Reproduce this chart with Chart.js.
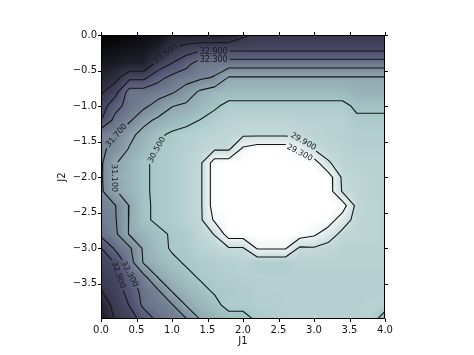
<!DOCTYPE html>
<html>
<head>
<meta charset="utf-8">
<script src="https://cdn.jsdelivr.net/npm/chart.js@4.4.0/dist/chart.umd.min.js"></script>
<style>
  html, body { margin: 0; padding: 0; background: #fff; }
  #wrap { width: 474px; height: 355px; }
</style>
</head>
<body>
<div id="wrap"><canvas id="chart" width="474" height="355"></canvas></div>
<script>
// grid of the map: J1 across, J2 downwards
const j1Values = [0.0, 0.2, 0.4, 0.6, 0.8, 1.0, 1.2, 1.4, 1.6, 1.8, 2.0, 2.2, 2.4, 2.6, 2.8, 3.0, 3.2, 3.4, 3.6, 3.8, 4.0];
const j2Values = [0.0, -0.2, -0.4, -0.6, -0.8, -1.0, -1.2, -1.4, -1.6, -1.8, -2.0, -2.2, -2.4, -2.6, -2.8, -3.0, -3.2, -3.4, -3.6, -3.8, -4.0];

// values, one row per J2 value
const zRows = [
  [34.9, 34.8, 34.7, 34.6, 34.5, 34.1, 34.07, 34.07, 34.07, 34.0, 33.6, 33.4, 33.4, 33.4, 33.4, 33.4, 33.4, 33.4, 33.4, 33.4, 33.4],
  [34.6, 34.5, 34.4, 34.3, 34.04, 33.45, 33.2, 33.03, 33.03, 33.03, 33.03, 33.03, 33.03, 33.03, 33.03, 33.03, 33.03, 33.03, 33.03, 33.03, 33.03],
  [34.3, 34.2, 34.05, 34.05, 33.32, 32.88, 32.5, 32.0, 32.0, 32.0, 32.0, 32.0, 32.0, 32.0, 32.0, 32.0, 32.0, 32.0, 32.0, 32.0, 32.0],
  [33.95, 33.7, 33.05, 33.05, 32.49, 32.14, 31.95, 31.8, 31.65, 31.05, 31.05, 31.05, 31.05, 31.05, 31.05, 31.05, 31.05, 31.05, 31.05, 31.05, 31.05],
  [33.58, 33.12, 32.05, 32.05, 31.95, 31.78, 31.42, 31.0, 30.8, 30.75, 30.75, 30.75, 30.75, 30.75, 30.75, 30.75, 30.75, 30.75, 30.9, 30.9, 30.9],
  [33.2, 32.5, 32.08, 31.82, 31.49, 31.12, 31.0, 30.8, 30.58, 30.35, 30.35, 30.35, 30.35, 30.35, 30.35, 30.35, 30.35, 30.35, 30.6, 30.6, 30.6],
  [32.92, 32.11, 31.78, 31.27, 30.99, 30.83, 30.67, 30.48, 30.3, 30.2, 30.15, 30.15, 30.15, 30.15, 30.2, 30.2, 30.2, 30.2, 30.4, 30.4, 30.4],
  [31.85, 31.74, 31.26, 30.9, 30.62, 30.4, 30.3, 30.2, 30.15, 30.1, 30.0, 30.0, 30.0, 30.0, 30.05, 30.15, 30.2, 30.25, 30.3, 30.3, 30.3],
  [31.8, 31.54, 31.06, 30.77, 30.48, 30.35, 30.25, 30.15, 30.0, 30.0, 29.2, 29.0, 29.0, 29.0, 29.4, 29.95, 30.1, 30.2, 30.25, 30.25, 30.25],
  [31.78, 31.14, 30.86, 30.56, 30.42, 30.35, 30.2, 30.0, 29.0, 29.0, 29.0, 29.0, 29.0, 29.0, 29.0, 29.0, 29.85, 30.1, 30.2, 30.2, 30.2],
  [31.78, 31.07, 30.83, 30.56, 30.42, 30.35, 30.2, 30.0, 29.0, 29.0, 29.0, 29.0, 29.0, 29.0, 29.0, 29.0, 29.0, 30.0, 30.1, 30.2, 30.2],
  [31.8, 31.14, 30.86, 30.56, 30.42, 30.35, 30.2, 30.0, 29.0, 29.0, 29.0, 29.0, 29.0, 29.0, 29.0, 29.0, 29.0, 29.95, 30.1, 30.2, 30.2],
  [31.85, 31.72, 31.08, 30.58, 30.42, 30.35, 30.2, 30.0, 29.0, 29.0, 29.0, 29.0, 29.0, 29.0, 29.0, 29.0, 29.0, 29.0, 30.06, 30.15, 30.2],
  [31.95, 31.75, 31.05, 30.58, 30.42, 30.35, 30.2, 30.0, 29.2, 29.0, 29.0, 29.0, 29.0, 29.0, 29.0, 29.0, 29.0, 29.6, 30.1, 30.15, 30.2],
  [32.15, 31.82, 31.05, 30.84, 30.61, 30.45, 30.35, 30.1, 29.88, 29.0, 29.0, 29.0, 29.0, 29.0, 29.0, 29.2, 29.6, 30.05, 30.1, 30.15, 30.2],
  [32.92, 32.2, 31.8, 31.01, 30.66, 30.45, 30.4, 30.2, 30.1, 29.95, 29.95, 29.25, 29.25, 29.25, 30.0, 29.95, 30.1, 30.2, 30.2, 30.2, 30.2],
  [33.1, 32.88, 31.96, 31.05, 30.82, 30.6, 30.45, 30.35, 30.3, 30.25, 30.2, 30.3, 30.3, 30.3, 30.2, 30.2, 30.2, 30.2, 30.2, 30.2, 30.2],
  [33.3, 33.1, 32.41, 31.85, 31.06, 30.85, 30.61, 30.45, 30.35, 30.3, 30.25, 30.25, 30.25, 30.25, 30.25, 30.25, 30.25, 30.25, 30.25, 30.25, 30.25],
  [33.52, 33.18, 32.7, 32.09, 31.78, 31.06, 30.84, 30.62, 30.45, 30.4, 30.35, 30.3, 30.25, 30.25, 30.25, 30.25, 30.25, 30.25, 30.25, 30.25, 30.25],
  [33.9, 33.3, 32.88, 32.17, 31.96, 31.75, 31.07, 30.85, 30.63, 30.35, 30.35, 30.3, 30.3, 30.25, 30.25, 30.25, 30.25, 30.25, 30.25, 30.2, 30.2],
  [34.3, 33.45, 33.18, 32.7, 32.16, 31.95, 31.75, 31.08, 30.9, 30.7, 30.7, 30.42, 30.35, 30.3, 30.25, 30.25, 30.25, 30.25, 30.25, 30.2, 30.87]
];

const levels = [29.3, 29.9, 30.5, 31.1, 31.7, 32.3, 32.9, 33.5];
const xTicks = [0, 0.5, 1, 1.5, 2, 2.5, 3, 3.5, 4];
const yTicks = [-3.5, -3, -2.5, -2, -1.5, -1, -0.5, 0];

// where the inline level labels sit (level, J1, J2)
const labelSpots = [
  [33.5, 0.89, -0.24], [32.9, 1.59, -0.22], [32.3, 1.59, -0.34],
  [31.7, 0.24, -1.42], [30.5, 0.72, -1.59], [31.1, 0.17, -2.01],
  [32.9, 0.22, -3.38], [32.3, 0.36, -3.40],
  [29.9, 2.78, -1.58], [29.3, 2.77, -1.70]
];

const zMin = Math.min(...zRows.flat());
const zMax = Math.max(...zRows.flat());

// matplotlib "bone", reversed (high values dark)
function boneR(v) {
  const s = 1 - Math.min(1, Math.max(0, (v - zMin) / (zMax - zMin)));
  const r = s < 0.746032 ? s * 0.652778 / 0.746032 : 0.652778 + (s - 0.746032) / 0.253968 * 0.347222;
  const g = s < 0.365079 ? s * 0.319444 / 0.365079
    : s < 0.746032 ? 0.319444 + (s - 0.365079) / 0.380953 * 0.458334
    : 0.777778 + (s - 0.746032) / 0.253968 * 0.222222;
  const b = s < 0.365079 ? s * 0.444444 / 0.365079 : 0.444444 + (s - 0.365079) / 0.634921 * 0.555556;
  return [r * 255, g * 255, b * 255];
}

function cellIndex(arr, v) {
  const up = arr[1] > arr[0];
  for (let k = 0; k < arr.length - 2; k++) {
    if (up ? v < arr[k + 1] : v > arr[k + 1]) return k;
  }
  return arr.length - 2;
}

// bilinear value at (J1, J2)
function sample(vx, vy) {
  const i = cellIndex(j1Values, vx), j = cellIndex(j2Values, vy);
  const fx = Math.min(1, Math.max(0, (vx - j1Values[i]) / (j1Values[i + 1] - j1Values[i])));
  const fy = Math.min(1, Math.max(0, (vy - j2Values[j]) / (j2Values[j + 1] - j2Values[j])));
  const top = zRows[j][i] * (1 - fx) + zRows[j][i + 1] * fx;
  const bot = zRows[j + 1][i] * (1 - fx) + zRows[j + 1][i + 1] * fx;
  return top * (1 - fy) + bot * fy;
}

function crossing(kind, i, j, level) {
  if (kind === 'h') {
    const v0 = zRows[j][i], v1 = zRows[j][i + 1];
    const f = (level - v0) / (v1 - v0);
    return [j1Values[i] + f * (j1Values[i + 1] - j1Values[i]), j2Values[j]];
  }
  const v0 = zRows[j][i], v1 = zRows[j + 1][i];
  const f = (level - v0) / (v1 - v0);
  return [j1Values[i], j2Values[j] + f * (j2Values[j + 1] - j2Values[j])];
}

// marching squares, segments chained into polylines
function contourLines(level) {
  const segs = [];
  for (let j = 0; j < j2Values.length - 1; j++) {
    for (let i = 0; i < j1Values.length - 1; i++) {
      const a = zRows[j][i], b = zRows[j][i + 1], c = zRows[j + 1][i + 1], d = zRows[j + 1][i];
      const code = (a >= level ? 8 : 0) | (b >= level ? 4 : 0) | (c >= level ? 2 : 0) | (d >= level ? 1 : 0);
      if (code === 0 || code === 15) continue;
      const T = 'h:' + i + ':' + j, B = 'h:' + i + ':' + (j + 1);
      const L = 'v:' + i + ':' + j, R = 'v:' + (i + 1) + ':' + j;
      const mid = (a + b + c + d) / 4 >= level;
      switch (code) {
        case 1: case 14: segs.push([L, B]); break;
        case 2: case 13: segs.push([B, R]); break;
        case 3: case 12: segs.push([L, R]); break;
        case 4: case 11: segs.push([T, R]); break;
        case 6: case 9: segs.push([T, B]); break;
        case 7: case 8: segs.push([T, L]); break;
        case 5: if (mid) segs.push([T, L], [B, R]); else segs.push([T, R], [L, B]); break;
        case 10: if (mid) segs.push([T, R], [L, B]); else segs.push([T, L], [B, R]); break;
      }
    }
  }
  const ends = new Map();
  segs.forEach((s, k) => s.forEach(e => {
    if (!ends.has(e)) ends.set(e, []);
    ends.get(e).push(k);
  }));
  const used = segs.map(() => false);
  const follow = start => {
    const keys = [start];
    let cur = start;
    for (;;) {
      const k = ends.get(cur).find(n => !used[n]);
      if (k === undefined) break;
      used[k] = true;
      cur = segs[k][0] === cur ? segs[k][1] : segs[k][0];
      keys.push(cur);
    }
    return keys;
  };
  const lines = [];
  ends.forEach((list, key) => { if (list.length === 1 && !used[list[0]]) lines.push(follow(key)); });
  segs.forEach((s, k) => { if (!used[k]) lines.push(follow(s[0])); });
  return lines.map(keys => keys.map(key => {
    const p = key.split(':');
    return crossing(p[0], +p[1], +p[2], level);
  }));
}

const contours = levels.map(level => ({ level, lines: contourLines(level) }));

const datasets = [];
contours.forEach(c => c.lines.forEach(line => datasets.push({
  data: line.map(p => ({ x: p[0], y: p[1] })),
  showLine: true,
  fill: false,
  tension: 0,
  borderColor: '#151515',
  borderWidth: 1.1,
  borderJoinStyle: 'round',
  pointRadius: 0,
  pointHoverRadius: 0
})));

const labelFont = '8px "DejaVu Sans"';
let placed = [];

function densify(pts) {
  const out = [];
  for (let k = 0; k < pts.length - 1; k++) {
    const [x0, y0] = pts[k], [x1, y1] = pts[k + 1];
    const n = Math.max(1, Math.ceil(Math.hypot(x1 - x0, y1 - y0)));
    for (let s = 0; s < n; s++) out.push([x0 + (x1 - x0) * s / n, y0 + (y1 - y0) * s / n]);
  }
  out.push(pts[pts.length - 1]);
  return out;
}

function placeLabels(chart) {
  const { ctx, scales: { x, y } } = chart;
  ctx.font = labelFont;
  placed = labelSpots.map(([level, hx, hy]) => {
    const text = level.toFixed(3);
    const w = ctx.measureText(text).width;
    const hpx = [x.getPixelForValue(hx), y.getPixelForValue(hy)];
    const c = contours.find(cc => Math.abs(cc.level - level) < 1e-9);
    let best = null;
    c.lines.forEach(line => {
      const pts = densify(line.map(p => [x.getPixelForValue(p[0]), y.getPixelForValue(p[1])]));
      pts.forEach((p, idx) => {
        const d = Math.hypot(p[0] - hpx[0], p[1] - hpx[1]);
        if (!best || d < best.d) best = { d, pts, idx };
      });
    });
    const { pts, idx } = best;
    const half = Math.round(w / 2);
    const p0 = pts[Math.max(0, idx - half)], p1 = pts[Math.min(pts.length - 1, idx + half)];
    let ang = Math.atan2(p1[1] - p0[1], p1[0] - p0[0]);
    if (ang >= Math.PI / 2) ang -= Math.PI;
    if (ang < -Math.PI / 2) ang += Math.PI;
    return { text, w, cx: pts[idx][0], cy: pts[idx][1], ang };
  });
}

const contourPlugin = {
  id: 'contourMap',
  beforeDatasetsDraw(chart) {
    const { ctx, chartArea: a, scales: { x, y } } = chart;
    const w = Math.round(a.right - a.left), h = Math.round(a.bottom - a.top);
    const img = ctx.createImageData(w, h);
    for (let py = 0; py < h; py++) {
      const vy = y.getValueForPixel(a.top + py + 0.5);
      for (let px = 0; px < w; px++) {
        const vx = x.getValueForPixel(a.left + px + 0.5);
        const col = boneR(sample(vx, vy));
        const k = (py * w + px) * 4;
        img.data[k] = col[0]; img.data[k + 1] = col[1]; img.data[k + 2] = col[2]; img.data[k + 3] = 255;
      }
    }
    ctx.putImageData(img, Math.round(a.left), Math.round(a.top));

    placeLabels(chart);
    ctx.save();
    ctx.beginPath();
    ctx.rect(a.left, a.top, a.right - a.left, a.bottom - a.top);
    placed.forEach(L => {
      const hw = L.w / 2 + 2, hh = 5;
      const cs = Math.cos(L.ang), sn = Math.sin(L.ang);
      const corners = [[-hw, -hh], [hw, -hh], [hw, hh], [-hw, hh]].map(([u, v]) => [L.cx + u * cs - v * sn, L.cy + u * sn + v * cs]);
      ctx.moveTo(corners[0][0], corners[0][1]);
      corners.slice(1).forEach(p => ctx.lineTo(p[0], p[1]));
      ctx.closePath();
    });
    ctx.clip('evenodd');
  },
  afterDatasetsDraw(chart) {
    const { ctx, chartArea: a, scales: { x, y } } = chart;
    ctx.restore();

    ctx.save();
    ctx.font = labelFont;
    ctx.fillStyle = '#1a1a1a';
    ctx.textAlign = 'center';
    ctx.textBaseline = 'middle';
    placed.forEach(L => {
      ctx.save();
      ctx.translate(L.cx, L.cy);
      ctx.rotate(L.ang);
      ctx.fillText(L.text, 0, 0.5);
      ctx.restore();
    });
    ctx.restore();

    // frame and outward ticks on all four sides
    ctx.save();
    ctx.strokeStyle = '#000';
    ctx.lineWidth = 1;
    const l = Math.round(a.left) + 0.5, r = Math.round(a.right) - 0.5;
    const t = Math.round(a.top) + 0.5, b = Math.round(a.bottom) - 0.5;
    ctx.strokeRect(l, t, r - l, b - t);
    ctx.beginPath();
    xTicks.forEach(v => {
      const px = Math.round(x.getPixelForValue(v)) + 0.5;
      ctx.moveTo(px, b); ctx.lineTo(px, b + 3.5);
      ctx.moveTo(px, t); ctx.lineTo(px, t - 3.5);
    });
    yTicks.forEach(v => {
      const py = Math.round(y.getPixelForValue(v)) + 0.5;
      ctx.moveTo(l, py); ctx.lineTo(l - 3.5, py);
      ctx.moveTo(r, py); ctx.lineTo(r + 3.5, py);
    });
    ctx.stroke();
    ctx.restore();
  }
};

const fmt = v => (v < 0 ? '\u2212' : '') + Math.abs(v).toFixed(1);

Chart.defaults.font.family = '"DejaVu Sans", sans-serif';
Chart.defaults.color = '#111';

new Chart(document.getElementById('chart'), {
  type: 'scatter',
  data: { datasets },
  options: {
    responsive: false,
    animation: false,
    devicePixelRatio: 1,
    events: [],
    layout: { padding: { left: 0, right: 89, top: 35, bottom: 0 } },
    plugins: { legend: { display: false }, tooltip: { enabled: false } },
    scales: {
      x: {
        type: 'linear', min: 0, max: 4,
        grid: { display: false, drawTicks: false },
        border: { display: false },
        ticks: { padding: 5, autoSkip: false, maxRotation: 0, font: { size: 10 }, callback: fmt },
        afterBuildTicks: s => { s.ticks = xTicks.map(v => ({ value: v })); },
        afterFit: s => { s.height = 36; },
        title: { display: true, text: 'J1', font: { size: 10 }, padding: { top: 0, bottom: 8 } }
      },
      y: {
        type: 'linear', min: -3.995, max: 0,
        grid: { display: false, drawTicks: false },
        border: { display: false },
        ticks: { padding: 4, autoSkip: false, font: { size: 10 }, callback: fmt },
        afterBuildTicks: s => { s.ticks = yTicks.map(v => ({ value: v })); },
        afterFit: s => { s.width = 101; },
        title: { display: true, text: 'J2', font: { size: 10 }, padding: { top: 56, bottom: 0 } }
      }
    }
  },
  plugins: [contourPlugin]
});
</script>
</body>
</html>
